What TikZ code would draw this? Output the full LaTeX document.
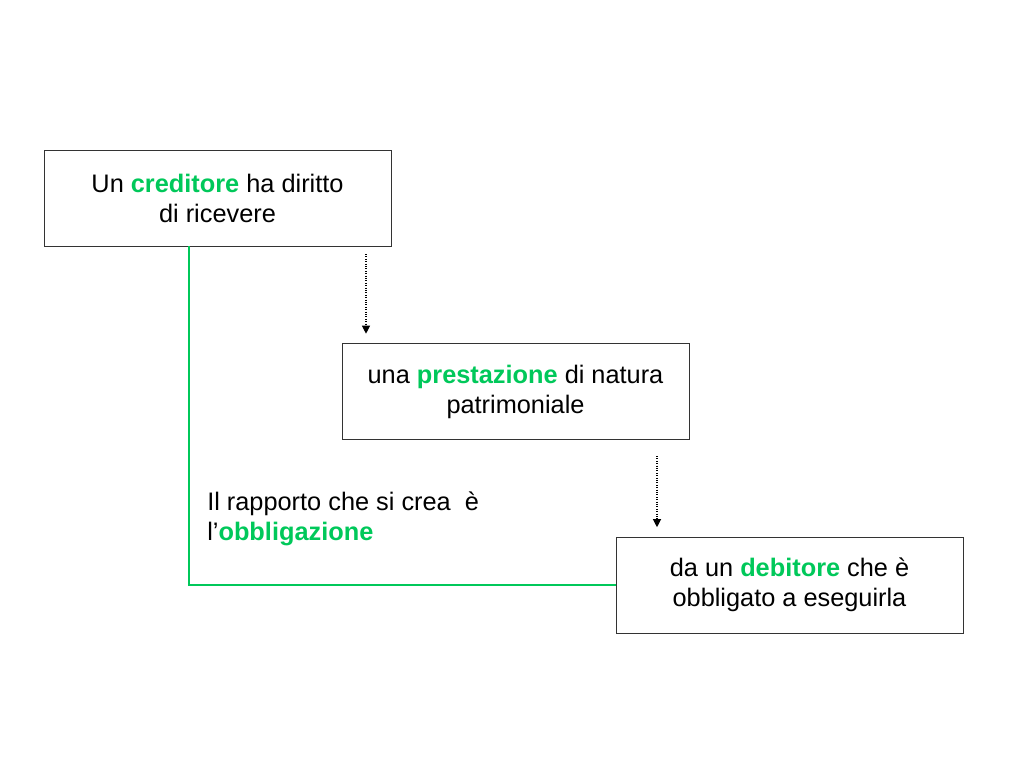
\documentclass[tikz,border=0pt]{standalone}
\usepackage{fontspec}
\setmainfont{Liberation Sans}
\usetikzlibrary{arrows.meta}
\definecolor{verde}{RGB}{0,200,90}
\tikzset{
  casella/.style={draw=black!80, line width=0.7pt, fill=white, minimum width=260.25pt,
    minimum height=72pt, align=center, font=\fontsize{19}{22.5}\selectfont},
  freccia/.style={densely dotted, line width=0.8pt, -{Triangle[length=6pt,width=6pt]}},
  evid/.style={text=verde, font=\bfseries}
}
\begin{document}
\begin{tikzpicture}[x=0.75pt, y=-0.75pt]
  \useasboundingbox (0,0) rectangle (1024,768);
  \node[casella] (cred) at (217.5,198) {Un {\color{verde}\bfseries creditore} ha diritto\\ di ricevere};
  \node[casella] (prest) at (515.5,391.5) {una {\color{verde}\bfseries prestazione} di natura\\ patrimoniale};
  \node[casella] (deb) at (789.5,585) {da un {\color{verde}\bfseries debitore} che è\\ obbligato a eseguirla};
  \coordinate (gomito) at (189,585);
  \draw[draw=verde, line width=0.8pt] (cred.south -| gomito) -- (gomito) -- (deb.west);
  \node[anchor=north west, align=left, inner sep=0pt, font=\fontsize{19}{22.5}\selectfont] (rapp) at (207,492)
    {Il rapporto che si crea~ è\\ l’{\color{verde}\bfseries obbligazione}};
  \coordinate (a1) at (366,254);
  \coordinate (a2) at (657,456);
  \draw[freccia] (a1) -- ([yshift=7pt]a1 |- prest.north);
  \draw[freccia] (a2) -- ([yshift=7pt]a2 |- deb.north);
\end{tikzpicture}
\end{document}
